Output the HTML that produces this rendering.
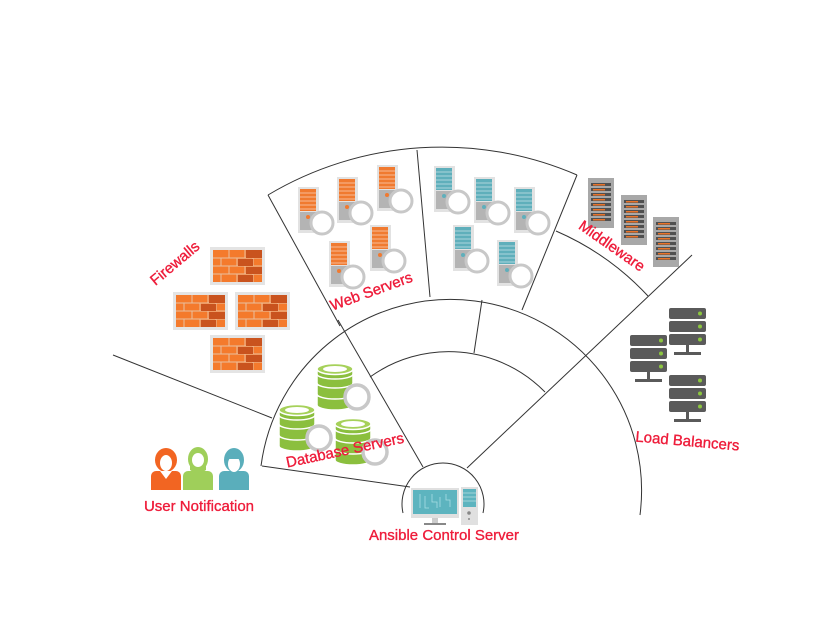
<!DOCTYPE html>
<html><head><meta charset="utf-8"><style>
html,body{margin:0;padding:0;background:#fff;}
svg{display:block;}
.lb{font-family:"Liberation Sans",sans-serif;font-size:15px;fill:#ee1c3a;stroke:#ee1c3a;stroke-width:0.35;}
</style></head><body>
<svg width="826" height="638" viewBox="0 0 826 638" xmlns="http://www.w3.org/2000/svg">
<defs>
  <g id="wall">
    <rect x="0" y="0" width="55" height="38" fill="#e4e4e4"/>
    <rect x="3" y="3" width="49" height="32" fill="#f47a2c"/>
    <g stroke="#e8c0a0" stroke-width="1">
      <line x1="3" y1="11" x2="52" y2="11"/><line x1="3" y1="19" x2="52" y2="19"/><line x1="3" y1="27" x2="52" y2="27"/>
      <line x1="19" y1="3" x2="19" y2="11"/><line x1="35" y1="3" x2="35" y2="11"/>
      <line x1="11" y1="11" x2="11" y2="19"/><line x1="27" y1="11" x2="27" y2="19"/><line x1="43" y1="11" x2="43" y2="19"/>
      <line x1="19" y1="19" x2="19" y2="27"/><line x1="35" y1="19" x2="35" y2="27"/>
      <line x1="11" y1="27" x2="11" y2="35"/><line x1="27" y1="27" x2="27" y2="35"/><line x1="43" y1="27" x2="43" y2="35"/>
    </g>
    <rect x="36" y="3" width="16" height="8" fill="#c9531e"/>
    <rect x="28" y="12" width="15" height="7" fill="#c9531e"/>
    <rect x="36" y="20" width="16" height="7" fill="#c9531e"/>
    <rect x="28" y="28" width="15" height="7" fill="#c9531e"/>
  </g>
  <g id="tower">
    <rect x="0" y="0" width="21" height="46" fill="#e2e2e2"/>
    <rect x="2" y="2" width="16" height="22" fill="currentColor"/>
    <g stroke="#fff" stroke-width="0.8" opacity="0.6">
      <line x1="2" y1="6" x2="18" y2="6"/><line x1="2" y1="10" x2="18" y2="10"/><line x1="2" y1="14" x2="18" y2="14"/><line x1="2" y1="18" x2="18" y2="18"/><line x1="2" y1="22" x2="18" y2="22"/>
    </g>
    <rect x="2" y="25" width="16" height="18" fill="#b4b4b4"/>
    <circle cx="10" cy="30" r="2" fill="currentColor"/>
    <circle cx="24" cy="36" r="11" fill="#fff" stroke="#c8c8c8" stroke-width="3"/>
  </g>
  <g id="rack">
    <rect x="0" y="0" width="26" height="50" fill="#a8a8a8"/>
    <g fill="#505050">
      <rect x="3" y="5" width="20" height="3"/><rect x="3" y="10" width="20" height="3"/><rect x="3" y="15" width="20" height="3"/><rect x="3" y="20" width="20" height="3"/><rect x="3" y="25" width="20" height="3"/><rect x="3" y="30" width="20" height="3"/><rect x="3" y="35" width="20" height="3"/><rect x="3" y="40" width="20" height="3"/>
    </g>
    <g fill="#e8732a">
      <rect x="5" y="6" width="12" height="1.5"/><rect x="5" y="11" width="12" height="1.5"/><rect x="5" y="16" width="12" height="1.5"/><rect x="5" y="21" width="12" height="1.5"/><rect x="5" y="26" width="12" height="1.5"/><rect x="5" y="31" width="12" height="1.5"/><rect x="5" y="36" width="12" height="1.5"/><rect x="5" y="41" width="12" height="1.5"/>
    </g>
  </g>
  <g id="db">
    <g fill="#8bbf3e" stroke="#fff" stroke-width="1.5">
      <path d="M0 33 v9 a18 5 0 0 0 36 0 v-9 z"/>
      <path d="M0 22 v9 a18 5 0 0 0 36 0 v-9 z"/>
      <path d="M0 11 v9 a18 5 0 0 0 36 0 v-9 z"/>
      <path d="M0 6 v5 a18 5 0 0 0 36 0 v-5 z"/>
      <ellipse cx="18" cy="6" rx="18" ry="5.5" fill="#a6d15a"/>
    </g>
    <ellipse cx="18" cy="6" rx="12" ry="3" fill="#fff"/>
    <circle cx="40" cy="34" r="12" fill="#fff" stroke="#c8c8c8" stroke-width="3.5"/>
  </g>
  <g id="lb">
    <rect x="0" y="0" width="37" height="11" rx="2" fill="#5a5a5a"/>
    <rect x="0" y="13" width="37" height="11" rx="2" fill="#5a5a5a"/>
    <rect x="0" y="26" width="37" height="11" rx="2" fill="#5a5a5a"/>
    <circle cx="31" cy="5.5" r="2" fill="#8cc63f"/><circle cx="31" cy="18.5" r="2" fill="#8cc63f"/><circle cx="31" cy="31.5" r="2" fill="#8cc63f"/>
    <rect x="17" y="37" width="3" height="9" fill="#5a5a5a"/>
    <rect x="5" y="44" width="27" height="3" fill="#5a5a5a"/>
  </g>
</defs>

<g fill="none" stroke="#333" stroke-width="1">
  <path d="M268 195 A340 340 0 0 1 577 175"/>
  <line x1="268" y1="195" x2="340" y2="326"/>
  <line x1="417" y1="150" x2="430" y2="297"/>
  <line x1="577" y1="175" x2="522" y2="310"/>
  <path d="M261 466 A191 191 0 0 1 640 515"/>
  <path d="M370 377 A135 135 0 0 1 545 392"/>
  <line x1="482" y1="300" x2="474" y2="353"/>
  <path d="M556 231 A275 275 0 0 1 648 296"/>
  <line x1="692" y1="255" x2="467" y2="468"/>
  <line x1="113" y1="355" x2="272" y2="418"/>
  <line x1="338" y1="320" x2="423" y2="467"/>
  <line x1="262" y1="466" x2="410" y2="487"/>
  <path d="M403 513 A41 41 0 1 1 483 513"/>
</g>

<use href="#wall" x="210" y="247"/>
<use href="#wall" x="173" y="292"/>
<use href="#wall" x="235" y="292"/>
<use href="#wall" x="210" y="335"/>

<g color="#f07a30">
  <use href="#tower" x="298" y="187"/>
  <use href="#tower" x="337" y="177"/>
  <use href="#tower" x="377" y="165"/>
  <use href="#tower" x="329" y="241"/>
  <use href="#tower" x="370" y="225"/>
</g>
<g color="#5fafbb">
  <use href="#tower" x="434" y="166"/>
  <use href="#tower" x="474" y="177"/>
  <use href="#tower" x="514" y="187"/>
  <use href="#tower" x="453" y="225"/>
  <use href="#tower" x="497" y="240"/>
</g>

<use href="#rack" x="588" y="178"/>
<use href="#rack" x="621" y="195"/>
<use href="#rack" x="653" y="217"/>

<use href="#db" x="317" y="363"/>
<use href="#db" x="279" y="404"/>
<use href="#db" x="335" y="418"/>

<use href="#lb" x="630" y="335"/>
<use href="#lb" x="669" y="308"/>
<use href="#lb" x="669" y="375"/>

<g>
  <path d="M151 490 v-14 a5 5 0 0 1 5 -5 h20 a5 5 0 0 1 5 5 v14 z" fill="#f26522"/>
  <ellipse cx="166" cy="460" rx="11" ry="12" fill="#f26522"/>
  <ellipse cx="166" cy="463" rx="6" ry="8" fill="#fff"/>
  <path d="M160 471 l6 8 l6 -8 z" fill="#fff"/>
  <path d="M183 490 v-14 a5 5 0 0 1 5 -5 h20 a5 5 0 0 1 5 5 v14 z" fill="#9fcf5a"/>
  <ellipse cx="198" cy="459" rx="10" ry="12" fill="#9fcf5a"/>
  <ellipse cx="198" cy="460" rx="6" ry="7" fill="#fff"/>
  <path d="M190 465 q8 10 16 0 v5 q-8 6 -16 0z" fill="#9fcf5a"/>
  <path d="M219 490 v-14 a5 5 0 0 1 5 -5 h20 a5 5 0 0 1 5 5 v14 z" fill="#5aaebb"/>
  <ellipse cx="234" cy="460" rx="10" ry="12" fill="#5aaebb"/>
  <ellipse cx="234" cy="464" rx="6" ry="8" fill="#fff"/>
  <rect x="228" y="455" width="12" height="4" fill="#5aaebb"/>
</g>

<g>
  <rect x="411" y="488" width="48" height="30" fill="#e0e0e0"/>
  <rect x="413" y="490" width="44" height="24" fill="#5db4bf"/>
  <g stroke="#a8dde4" stroke-width="0.8" fill="none">
    <path d="M420 494 v14 M425 496 v12 h4 M432 494 v8 h5 v6 M440 497 v10 M446 494 v6 h4 v7"/>
  </g>
  <rect x="432" y="518" width="6" height="5" fill="#ccc"/>
  <rect x="424" y="523" width="22" height="2" fill="#888"/>
  <rect x="461" y="487" width="17" height="38" fill="#e0e0e0"/>
  <rect x="463" y="489" width="13" height="18" fill="#5db4bf"/>
  <g stroke="#fff" stroke-width="0.7" opacity="0.6"><line x1="463" y1="493" x2="476" y2="493"/><line x1="463" y1="497" x2="476" y2="497"/><line x1="463" y1="501" x2="476" y2="501"/></g>
  <circle cx="469" cy="513" r="1.8" fill="#888"/>
  <circle cx="469" cy="519" r="1" fill="#888"/>
</g>

<text class="lb" transform="translate(178,267) rotate(-40)" text-anchor="middle">Firewalls</text>
<text class="lb" transform="translate(373,296) rotate(-20)" text-anchor="middle">Web Servers</text>
<text class="lb" transform="translate(609,250) rotate(35)" text-anchor="middle">Middleware</text>
<text class="lb" transform="translate(346,455) rotate(-12)" text-anchor="middle">Database Servers</text>
<text class="lb" transform="translate(687,446) rotate(5)" text-anchor="middle">Load Balancers</text>
<text class="lb" x="199" y="511" text-anchor="middle">User Notification</text>
<text class="lb" x="444" y="540" text-anchor="middle">Ansible Control Server</text>
</svg>
</body></html>
